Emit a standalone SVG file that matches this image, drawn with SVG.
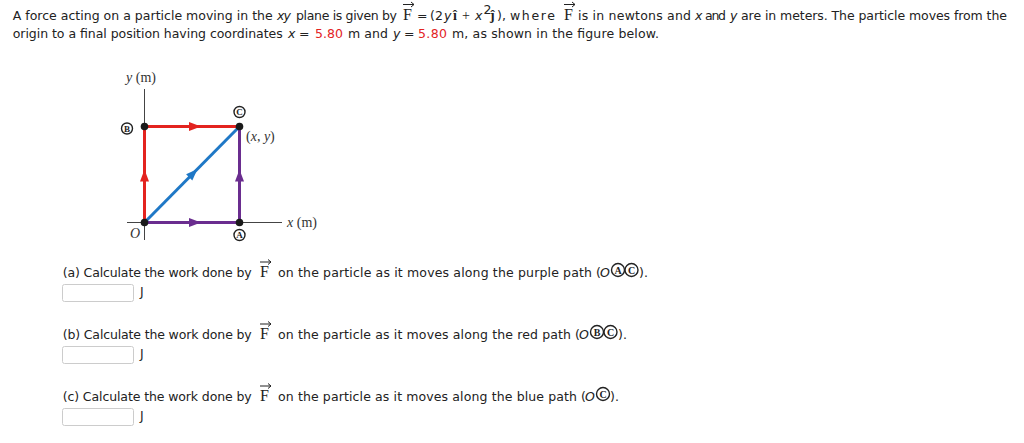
<svg xmlns="http://www.w3.org/2000/svg" width="1024" height="443" viewBox="0 0 1024 443">
<style>
.t{font-family:"DejaVu Sans","Liberation Sans",sans-serif;font-size:12.5px;fill:#222}
.i{font-style:italic}
.r{fill:#e3231f}
.s{font-family:"Liberation Serif",serif;fill:#222}
.fv{font-family:"Liberation Serif",serif;font-size:16px;fill:#222}
.vec{stroke:#222;stroke-width:1;fill:none}
.cl{fill:#fff;stroke:#222;stroke-width:1.4}
.cn{fill:none;stroke:#222;stroke-width:1.4}
.cq{font-family:"Liberation Serif",serif;font-weight:bold;font-size:10px;fill:#222;text-anchor:middle}
.cf{font-family:"Liberation Serif",serif;font-weight:bold;font-size:9px;fill:#222;text-anchor:middle}
.fl{font-family:"Liberation Serif",serif;font-size:14px;fill:#333}
.box{fill:#fff;stroke:#ccc;stroke-width:1}
.dot{fill:#1a1a1a}
.axis{stroke:#444;stroke-width:1}
</style>
<defs>
<g id="vecarrow"><path class="vec" d="M0 0h11M8 -2.5l3 2.5l-3 2.5"/></g>
</defs>
<rect width="1024" height="443" fill="#fff"/>

<!-- Header text -->
<g id="header">
<text class="t" y="20"><tspan x="12.7" textLength="260">A force acting on a particle moving in the</tspan><tspan x="277" class="i" textLength="14">xy</tspan><tspan x="296" textLength="101">plane is given by</tspan></text>
<text class="fv" x="403" y="20">F</text>
<use href="#vecarrow" x="403" y="4.5"/>
<text class="t" y="20"><tspan x="417">=</tspan><tspan x="430">(2</tspan><tspan x="444" class="i">y</tspan></text>
<text class="s" y="20" font-size="14" font-weight="bold" x="453">î</text>
<text class="s" y="20" font-size="14" x="462">+</text>
<text class="t i" y="20" x="475">x</text>
<text class="t" y="14" x="483.5" font-size="8.5">2</text>
<text class="s" y="20" font-size="14" font-weight="bold" x="490">ĵ</text>
<text class="t" y="20"><tspan x="497">),</tspan><tspan x="510" textLength="45">where</tspan></text>
<text class="fv" x="564" y="20">F</text>
<use href="#vecarrow" x="564" y="4.5"/>
<text class="t" y="20"><tspan x="578" textLength="113">is in newtons and</tspan><tspan x="695" class="i">x</tspan><tspan x="705" textLength="21">and</tspan><tspan x="730" class="i">y</tspan><tspan x="741" textLength="266">are in meters. The particle moves from the</tspan></text>
<text class="t" y="38"><tspan x="12.7" textLength="270">origin to a final position having coordinates</tspan><tspan x="288" class="i">x</tspan><tspan x="299">=</tspan><tspan x="315" class="r" textLength="28">5.80</tspan><tspan x="348" textLength="40">m and</tspan><tspan x="393" class="i">y</tspan><tspan x="404">=</tspan><tspan x="418" class="r" textLength="29">5.80</tspan><tspan x="452" textLength="207">m, as shown in the figure below.</tspan></text>
</g>

<!-- Figure axes -->
<g id="axes">
<line class="axis" x1="144.5" y1="89" x2="144.5" y2="240"/>
<line class="axis" x1="127" y1="222.5" x2="282" y2="222.5"/>
<text class="fl" x="126" y="82"><tspan font-style="italic">y</tspan> (m)</text>
<text class="fl" x="287" y="227"><tspan font-style="italic">x</tspan> (m)</text>
</g>

<!-- Connectors -->
<g id="connectors">
<path d="M144.5 222.5V126.5H239.5" fill="none" stroke="#e3231f" stroke-width="3"/>
<path d="M144.5 222.5H239.5V126.5" fill="none" stroke="#6a2d8f" stroke-width="3"/>
<path d="M144.5 222.5L239.5 126.5" fill="none" stroke="#1f78c6" stroke-width="3"/>
<path d="M144.5 169.5l-4.5 12h9z" fill="#e3231f"/>
<path d="M201 126.5l-12 -4.5v9z" fill="#e3231f"/>
<path d="M201 222.5l-12 -4.5v9z" fill="#6a2d8f"/>
<path d="M239.5 169.5l-4.5 12h9z" fill="#6a2d8f"/>
<path d="M197.5 169L192.3 180.4L186.1 174.2Z" fill="#1f78c6"/>
</g>

<!-- Nodes -->
<g id="node-O">
<circle class="dot" cx="144.5" cy="222.5" r="3.8"/>
<text class="fl" x="130" y="238" font-style="italic">O</text>
</g>
<g id="node-A">
<circle class="dot" cx="239.5" cy="222.5" r="3.8"/>
<circle class="cl" cx="239.5" cy="235" r="5.5"/>
<text class="cf" x="239.5" y="238.2">A</text>
</g>
<g id="node-B">
<circle class="dot" cx="144.5" cy="126.5" r="3.8"/>
<circle class="cl" cx="127" cy="128.5" r="5.5"/>
<text class="cf" x="127" y="131.7">B</text>
</g>
<g id="node-C">
<circle class="dot" cx="239.5" cy="126.5" r="3.8"/>
<circle class="cl" cx="239.5" cy="112" r="5.5"/>
<text class="cf" x="239.5" y="115.2">C</text>
<text class="fl" x="246" y="141">(<tspan font-style="italic">x</tspan>, <tspan font-style="italic">y</tspan>)</text>
</g>

<!-- Question (a) -->
<g id="question-a">
<text class="t" y="277"><tspan x="62.7" textLength="189">(a) Calculate the work done by</tspan><tspan x="278" textLength="314">on the particle as it moves along the purple path</tspan><tspan x="596">(</tspan><tspan x="600" class="i">O</tspan><tspan x="639">).</tspan></text>
<text class="fv" x="260" y="277">F</text>
<use href="#vecarrow" x="260" y="262"/>
<circle class="cn" cx="618" cy="270" r="6.5"/><text class="cq" x="618" y="273.5">A</text>
<circle class="cn" cx="631.5" cy="270" r="6.5"/><text class="cq" x="631.5" y="273.5">C</text>
<rect class="box" x="62.5" y="284.5" width="71" height="17" rx="2"/>
<text class="t" x="140" y="296" font-size="11">J</text>
</g>

<!-- Question (b) -->
<g id="question-b">
<text class="t" y="339"><tspan x="62.7" textLength="189">(b) Calculate the work done by</tspan><tspan x="278" textLength="293">on the particle as it moves along the red path</tspan><tspan x="575">(</tspan><tspan x="579" class="i">O</tspan><tspan x="618">).</tspan></text>
<text class="fv" x="260" y="339">F</text>
<use href="#vecarrow" x="260" y="324"/>
<circle class="cn" cx="597" cy="332" r="6.5"/><text class="cq" x="597" y="335.5">B</text>
<circle class="cn" cx="610.5" cy="332" r="6.5"/><text class="cq" x="610.5" y="335.5">C</text>
<rect class="box" x="62.5" y="346.5" width="71" height="17" rx="2"/>
<text class="t" x="140" y="358" font-size="11">J</text>
</g>

<!-- Question (c) -->
<g id="question-c">
<text class="t" y="401"><tspan x="62.7" textLength="189">(c) Calculate the work done by</tspan><tspan x="278" textLength="299">on the particle as it moves along the blue path</tspan><tspan x="581">(</tspan><tspan x="585" class="i">O</tspan><tspan x="610">).</tspan></text>
<text class="fv" x="260" y="401">F</text>
<use href="#vecarrow" x="260" y="386"/>
<circle class="cn" cx="603" cy="394" r="6.5"/><text class="cq" x="603" y="397.5">C</text>
<rect class="box" x="62.5" y="408.5" width="71" height="17" rx="2"/>
<text class="t" x="140" y="420" font-size="11">J</text>
</g>
</svg>
